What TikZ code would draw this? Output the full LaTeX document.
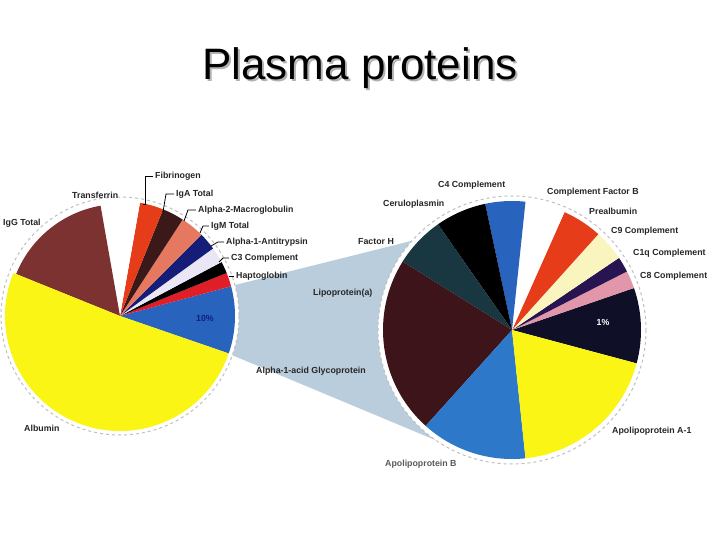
\documentclass[tikz,border=0pt]{standalone}
\usepackage{fontspec}
\setmainfont{Liberation Sans}
\definecolor{cblue}{RGB}{40,100,190}
\definecolor{cred}{RGB}{225,30,40}
\definecolor{cnavy}{RGB}{20,30,120}
\definecolor{csalmon}{RGB}{230,120,95}
\definecolor{cdbrown}{RGB}{60,25,25}
\definecolor{corange}{RGB}{230,60,25}
\definecolor{cigg}{RGB}{125,50,50}
\definecolor{cyel}{RGB}{250,245,20}
\definecolor{cpale}{RGB}{235,230,245}
\definecolor{cnight}{RGB}{15,15,40}
\definecolor{cpink}{RGB}{225,150,170}
\definecolor{cpurp}{RGB}{40,20,80}
\definecolor{ccream}{RGB}{250,245,190}
\definecolor{cteal}{RGB}{25,55,65}
\definecolor{cmaroon}{RGB}{60,20,25}
\definecolor{capob}{RGB}{45,120,200}
\definecolor{ccone}{RGB}{185,205,220}
\begin{document}
\begin{tikzpicture}[x=1pt,y=-1pt,
  lbl/.style={font=\fontsize{8.8}{10}\selectfont\bfseries,inner sep=0pt,anchor=west,text=black!85},
  lead/.style={draw=black,line width=0.8pt}]
\useasboundingbox (0,0) rectangle (720,540);
\fill[white] (0,0) rectangle (720,540);
\node[font=\fontsize{44}{48}\selectfont,text=gray!60] at (362,70) {Plasma proteins};
\node (title) [font=\fontsize{44}{48}\selectfont] at (360,68) {Plasma proteins};
% cone
\coordinate (L1) at (227,287);
\coordinate (L2) at (227,353);
\coordinate (R1) at (415,240);
\coordinate (R2) at (440,442);
\fill[ccone] (L1) -- (R1) -- (R2) -- (L2) -- cycle;
% left pie
\coordinate (c1) at (120,316);
\fill[white] (c1) circle (119);
\draw[gray!50,dashed,line width=1pt] (c1) circle (119);
\def\sl#1#2#3#4{\fill[#4] (c1) -- ++(-#1:#3) arc[start angle=-#1,end angle=-#2,radius=#3] -- cycle;}
\sl{-19}{15}{115}{cblue}
\sl{15}{22}{115}{cred}
\sl{22}{28}{115}{black}
\sl{28}{36}{115}{cpale}
\sl{36}{45}{115}{cnavy}
\sl{45}{57}{115}{csalmon}
\sl{57}{68}{115}{cdbrown}
\sl{68}{80}{115}{corange}
\sl{80}{100}{115}{white}
\sl{100}{158}{112}{cigg}
\sl{158}{341}{115}{cyel}
% right pie
\coordinate (c2) at (512,330);
\fill[white] (c2) circle (134);
\draw[gray!50,dashed,line width=1pt] (c2) circle (134);
\def\sr#1#2#3{\fill[#3] (c2) -- ++(-#1:129) arc[start angle=-#1,end angle=-#2,radius=129] -- cycle;}
\sr{-15}{19}{cnight}
\sr{19}{27}{cpink}
\sr{27}{34}{cpurp}
\sr{34}{48}{ccream}
\sr{48}{66}{corange}
\sr{66}{84}{white}
\sr{84}{102}{cblue}
\sr{102}{125}{black}
\sr{125}{148}{cteal}
\sr{148}{228}{cmaroon}
\sr{228}{276}{capob}
\sr{276}{345}{cyel}
% labels left
\node (fib) [lbl] at (155,176) {Fibrinogen};
\node (iga) [lbl] at (176,194) {IgA Total};
\node (a2m) [lbl] at (198,210) {Alpha-2-Macroglobulin};
\node (igm) [lbl] at (211,226) {IgM Total};
\node (a1a) [lbl] at (226,242) {Alpha-1-Antitrypsin};
\node (c3) [lbl] at (231,258) {C3 Complement};
\node (hap) [lbl] at (236,276) {Haptoglobin};
\coordinate (fibe) at (143,204);
\coordinate (igae) at (163,212);
\coordinate (a2me) at (184,221);
\coordinate (igme) at (200,233);
\coordinate (a1ae) at (211,246);
\coordinate (c3e) at (219,262);
\coordinate (hape) at (229,276);
\draw[lead] (fib.west) ++(-2,0) -- ++(-8,0) |- (fibe);
\draw[lead] (iga.west) ++(-2,0) -- ++(-8,0) -- (igae);
\draw[lead] (a2m.west) ++(-2,0) -- ++(-8,0) -- (a2me);
\draw[lead] (igm.west) ++(-2,0) -- ++(-6,0) -- (igme);
\draw[lead] (a1a.west) ++(-2,0) -- ++(-6,0) -- (a1ae);
\draw[lead] (c3.west) ++(-2,0) -- ++(-6,0) -- (c3e);
\draw[lead] (hap.west) ++(-2,0) -- (hape);
\node (tra) [lbl] at (72,195) {Transferrin};
\node (igg) [lbl] at (3,223) {IgG Total};
\node (alb) [lbl] at (24,428) {Albumin};
\node (p10) [lbl,anchor=center,text=cnavy] at (205,318) {10\%};
% middle
\node (lpa) [lbl] at (313,293) {Lipoprotein(a)};
\node (a1g) [lbl] at (256,371) {Alpha-1-acid Glycoprotein};
\node (fh) [lbl] at (358,242) {Factor H};
% right
\node (c4) [lbl] at (438,185) {C4 Complement};
\node (cer) [lbl] at (383,204) {Ceruloplasmin};
\node (cfb) [lbl] at (547,192) {Complement Factor B};
\node (pre) [lbl] at (589,211) {Prealbumin};
\node (c9) [lbl] at (611,231) {C9 Complement};
\node (c1q) [lbl] at (633,253) {C1q Complement};
\node (c8) [lbl] at (640,276) {C8 Complement};
\node (p1) [lbl,anchor=center,text=white] at (603,322) {1\%};
\node (apa) [lbl] at (612,431) {Apolipoprotein A-1};
\node (apb) [lbl,text=black!65] at (385,464) {Apolipoprotein B};
\end{tikzpicture}
\end{document}
